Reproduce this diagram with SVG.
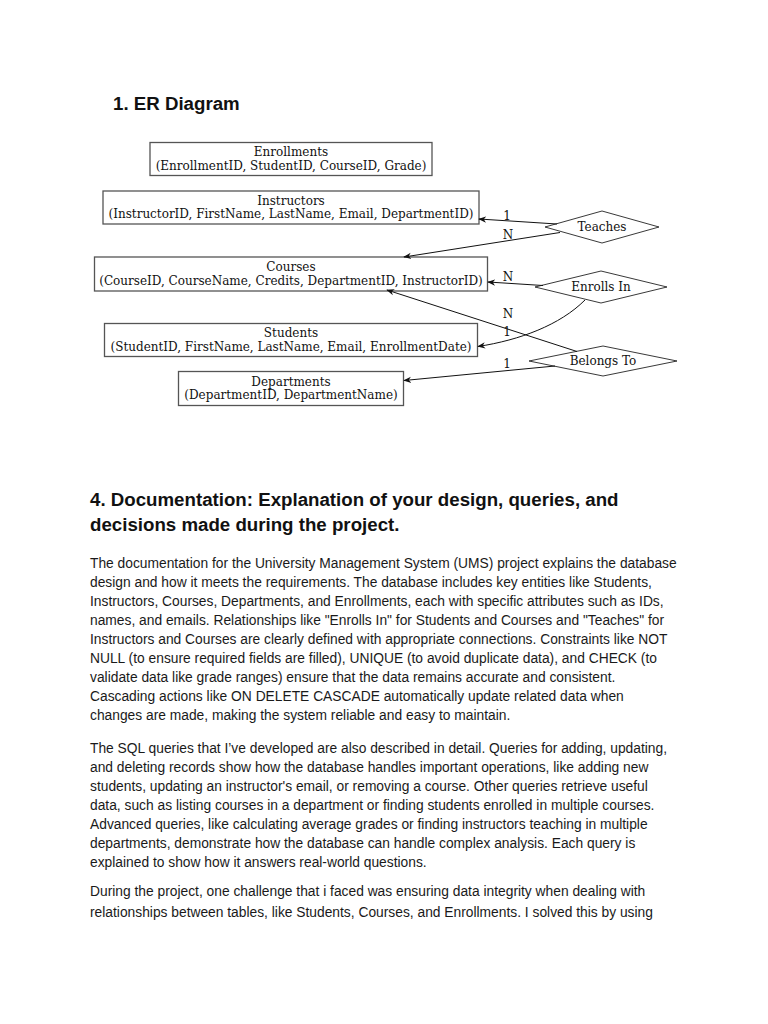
<svg xmlns="http://www.w3.org/2000/svg" width="768" height="1024" viewBox="0 0 768 1024">
<style>
.h{font-family:"Liberation Sans",Arial,sans-serif;font-weight:bold;font-size:18.7px;fill:#111}
.b{font-family:"Liberation Sans",Arial,sans-serif;font-size:13.8px;fill:#1a1a1a}
.s{font-family:"DejaVu Serif","Liberation Serif",serif;font-size:12px;fill:#111;text-anchor:middle}
.ent{fill:#fff;stroke:#555;stroke-width:1.3}
.rel{fill:#fff;stroke:#222;stroke-width:0.9}
.edge{fill:none;stroke:#111;stroke-width:1;marker-end:url(#arr)}
</style>
<defs>
<marker id="arr" viewBox="0 0 10 10" refX="9" refY="5" markerWidth="8" markerHeight="8" orient="auto" markerUnits="userSpaceOnUse">
<path d="M0,1 L10,5 L0,9 L3,5 Z" fill="#111"/>
</marker>
</defs>
<rect width="768" height="1024" fill="#fff"/>
<text class="h" x="113" y="110">1. ER Diagram</text>

<g id="enrollments">
<rect class="ent" x="150" y="142.5" width="282" height="33"/>
<text class="s" x="291" y="156">Enrollments</text>
<text class="s" x="291" y="169.5">(EnrollmentID, StudentID, CourseID, Grade)</text>
</g>
<g id="instructors">
<rect class="ent" x="103" y="191" width="376" height="33"/>
<text class="s" x="291" y="204.5">Instructors</text>
<text class="s" x="291" y="218">(InstructorID, FirstName, LastName, Email, DepartmentID)</text>
</g>
<g id="courses">
<rect class="ent" x="94.5" y="257" width="393" height="34"/>
<text class="s" x="291" y="271">Courses</text>
<text class="s" x="291" y="284.5">(CourseID, CourseName, Credits, DepartmentID, InstructorID)</text>
</g>
<g id="students">
<rect class="ent" x="104.5" y="323.5" width="373" height="33"/>
<text class="s" x="291" y="337">Students</text>
<text class="s" x="291" y="350.5">(StudentID, FirstName, LastName, Email, EnrollmentDate)</text>
</g>
<g id="departments">
<rect class="ent" x="178.5" y="371.5" width="225" height="34"/>
<text class="s" x="291" y="385.5">Departments</text>
<text class="s" x="291" y="399">(DepartmentID, DepartmentName)</text>
</g>

<g id="teaches">
<polygon class="rel" points="545,227 602,211 659,227 602,243"/>
<text class="s" x="602" y="231">Teaches</text>
</g>
<g id="enrolls_in">
<polygon class="rel" points="535,287 601,271 667,287 601,303"/>
<text class="s" x="601" y="291">Enrolls In</text>
</g>
<g id="belongs_to">
<polygon class="rel" points="529,361 603,346 677,361 603,376"/>
<text class="s" x="603" y="365">Belongs To</text>
</g>

<g id="connectors">
<path class="edge" d="M557,224 L479,219"/>
<path class="edge" d="M560,232.5 L404,257"/>
<path class="edge" d="M543,285.5 L488,282"/>
<path class="edge" d="M585,300 C560,325 520,340 478,346.5"/>
<path class="edge" d="M577,351.5 L387,290"/>
<path class="edge" d="M555,366 L404,380.5"/>
<text class="s" x="507" y="219.5">1</text>
<text class="s" x="508" y="238.5">N</text>
<text class="s" x="508" y="281">N</text>
<text class="s" x="507" y="335.5">1</text>
<text class="s" x="508" y="317.5">N</text>
<text class="s" x="507" y="368">1</text>
</g>

<text class="h" x="90" y="506">4. Documentation: Explanation of your design, queries, and</text>
<text class="h" x="90" y="531">decisions made during the project.</text>

<g class="b">
<text class="b" x="90" y="568">The documentation for the University Management System (UMS) project explains the database</text>
<text class="b" x="90" y="587">design and how it meets the requirements. The database includes key entities like Students,</text>
<text class="b" x="90" y="606">Instructors, Courses, Departments, and Enrollments, each with specific attributes such as IDs,</text>
<text class="b" x="90" y="625">names, and emails. Relationships like "Enrolls In" for Students and Courses and "Teaches" for</text>
<text class="b" x="90" y="644">Instructors and Courses are clearly defined with appropriate connections. Constraints like NOT</text>
<text class="b" x="90" y="663">NULL (to ensure required fields are filled), UNIQUE (to avoid duplicate data), and CHECK (to</text>
<text class="b" x="90" y="682">validate data like grade ranges) ensure that the data remains accurate and consistent.</text>
<text class="b" x="90" y="701">Cascading actions like ON DELETE CASCADE automatically update related data when</text>
<text class="b" x="90" y="720">changes are made, making the system reliable and easy to maintain.</text>

<text class="b" x="90" y="753">The SQL queries that I’ve developed are also described in detail. Queries for adding, updating,</text>
<text class="b" x="90" y="772">and deleting records show how the database handles important operations, like adding new</text>
<text class="b" x="90" y="791">students, updating an instructor's email, or removing a course. Other queries retrieve useful</text>
<text class="b" x="90" y="810">data, such as listing courses in a department or finding students enrolled in multiple courses.</text>
<text class="b" x="90" y="829">Advanced queries, like calculating average grades or finding instructors teaching in multiple</text>
<text class="b" x="90" y="848">departments, demonstrate how the database can handle complex analysis. Each query is</text>
<text class="b" x="90" y="867">explained to show how it answers real-world questions.</text>

<text class="b" x="90" y="896">During the project, one challenge that i faced was ensuring data integrity when dealing with</text>
<text class="b" x="90" y="917">relationships between tables, like Students, Courses, and Enrollments. I solved this by using</text>
</g>
</svg>
